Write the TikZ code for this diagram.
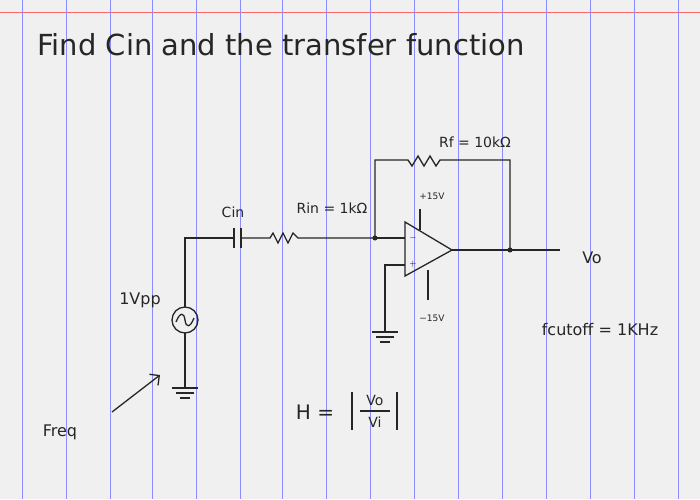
\documentclass[tikz,border=0pt]{standalone}
\usepackage{fontspec}
\setmainfont{DejaVu Sans}
\usetikzlibrary{arrows.meta}
\begin{document}
\begin{tikzpicture}[x=1pt,y=-1pt,
  wire/.style={line width=1.3pt,color=black!85},
  lbl/.style={font=\fontsize{14}{16}\selectfont,text=black!85,inner sep=1pt},
  dot/.style={circle,fill=black!85,inner sep=1.8pt}]
\fill[black!6] (0,0) rectangle (700,499);
\useasboundingbox (0,0) rectangle (700,499);
\draw[red!60,line width=0.8pt] (0,12) -- (700,12);
\foreach \x in {22,66,110,152,196,240,282,326,370,414,458,502,546,590,634,678}
  \draw[blue!45,line width=0.9pt] (\x,0) -- (\x,499);
\node[lbl,font=\fontsize{29}{32}\selectfont,anchor=west] (title) at (36,45) {Find Cin and the transfer function};
% nodes
\coordinate (nm) at (375,238);
\coordinate (no) at (510,250);
\coordinate (src) at (185,320);
\node[dot] (dm) at (nm) {};
\node[dot] (do) at (no) {};
% feedback
\draw[wire] (nm) -- (375,160) -- (408,160)
  -- (412,166) -- (418,156) -- (424,166) -- (430,156) -- (436,166) -- (440,160)
  -- (510,160) -- (no);
\node[lbl] (rf) at (475,142) {Rf = 10kΩ};
% op amp
\draw[wire] (405,222) -- (452,250) -- (405,276) -- cycle;
\node[font=\small] (mi) at (413,238) {$-$};
\node[font=\small] (pl) at (413,264) {$+$};
\draw[wire] (420,209) -- (420,230);
\node[lbl,font=\small] (vp) at (432,196) {+15V};
\draw[wire] (428,270) -- (428,300);
\node[lbl,font=\small] (vn) at (432,318) {−15V};
\draw[wire] (nm) -- (405,238);
\draw[wire] (405,265) -- (385,265) -- (385,332);
\draw[wire] (372,332) -- (398,332) (376,337) -- (394,337) (380,342) -- (390,342);
% output
\draw[wire] (452,250) -- (no) -- (560,250);
\node[lbl,font=\fontsize{16}{18}\selectfont] (vo) at (592,258) {Vo};
% input
\draw[wire] (185,307) -- (185,238) -- (234,238);
\draw[wire] (234,228) -- (234,248) (241,228) -- (241,248);
\draw[wire] (241,238) -- (270,238) -- (273,233) -- (278,243) -- (283,233) -- (288,243) -- (293,233) -- (298,238) -- (nm);
\node[lbl] (cin) at (233,212) {Cin};
\node[lbl] (rin) at (332,208) {Rin = 1kΩ};
\draw[wire] (src) circle (13);
\draw[wire] (176,322) .. controls (180,312) and (184,312) .. (185,320) .. controls (186,328) and (190,328) .. (194,318);
\draw[wire] (185,333) -- (185,388);
\draw[wire] (172,388) -- (198,388) (176,393) -- (194,393) (180,398) -- (190,398);
\node[lbl,font=\fontsize{16}{18}\selectfont] (vpp) at (140,300) {1Vpp};
\node[lbl,font=\fontsize{16}{18}\selectfont] (freq) at (60,432) {Freq};
\draw[wire,-{Straight Barb[length=7pt]}] (112,412) -- (160,375);
% transfer function
\node[lbl,font=\fontsize{20}{22}\selectfont] (h) at (315,412) {H =};
\draw[wire] (352,392) -- (352,430) (397,392) -- (397,430) (360,411) -- (390,411);
\node[lbl] (hvo) at (375,400) {Vo};
\node[lbl] (hvi) at (375,422) {Vi};
\node[lbl,font=\fontsize{16}{18}\selectfont] (fc) at (600,330) {fcutoff = 1KHz};
\end{tikzpicture}
\end{document}
